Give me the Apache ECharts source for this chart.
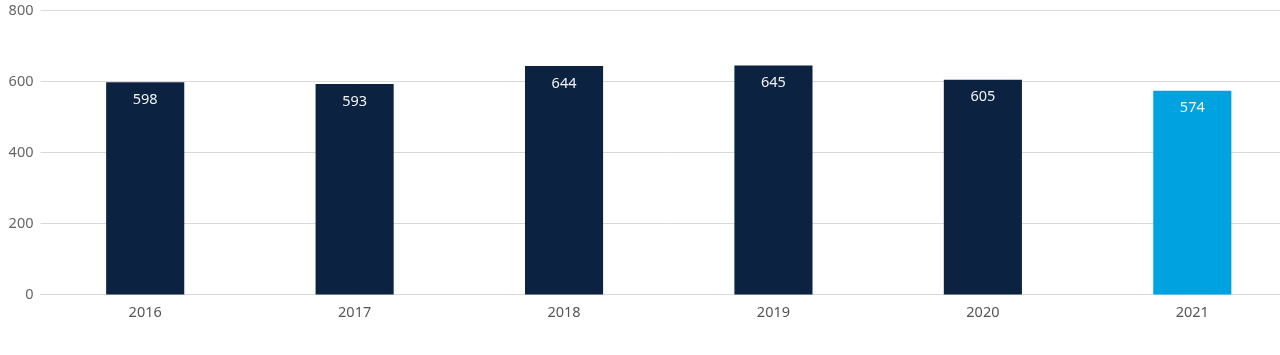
<!DOCTYPE html>
<html><head><meta charset="utf-8">
<script src="https://cdn.jsdelivr.net/npm/echarts@6/dist/echarts.min.js"></script>
<style>html,body{margin:0;padding:0;background:#fff;overflow:hidden}#c{width:1297px;height:355px}</style>
</head><body><div id="c"></div>
<script>
const categories = ['2016','2017','2018','2019','2020','2021'];
const values = [598, 593, 644, 645, 605, 574];
const yTicks = [0, 200, 400, 600, 800];
const barColors = ['#0c2241','#0c2241','#0c2241','#0c2241','#0c2241','#00a3e0'];

const chart = echarts.init(document.getElementById('c'));
chart.setOption({
  animation: false,
  textStyle: { fontFamily: 'Noto Sans' },
  grid: { left: 40.5, right: 0, top: 10.5, bottom: 60.5, containLabel: false },
  xAxis: {
    type: 'category', data: categories,
    axisLine: { show: true, lineStyle: { color: '#d9d9d9' } },
    axisTick: { show: false },
    axisLabel: { color: '#555', fontSize: 14.5, margin: 11, fontFamily: 'Noto Sans' }
  },
  yAxis: {
    type: 'value', min: yTicks[0], max: yTicks[yTicks.length-1], interval: 200,
    axisLine: { show: false }, axisTick: { show: false },
    splitLine: { lineStyle: { color: '#d9d9d9' } },
    axisLabel: { color: '#666', fontSize: 14.5, margin: 7, fontFamily: 'Noto Sans' }
  },
  series: [{
    type: 'bar', barWidth: '37.3%',
    data: values.map((v, i) => ({ value: v, itemStyle: { color: barColors[i] } })),
    label: { show: true, position: 'insideTop', distance: 10, color: '#f2f2f2', fontSize: 14.5, fontFamily: 'Noto Sans' }
  }]
});
</script></body></html>
